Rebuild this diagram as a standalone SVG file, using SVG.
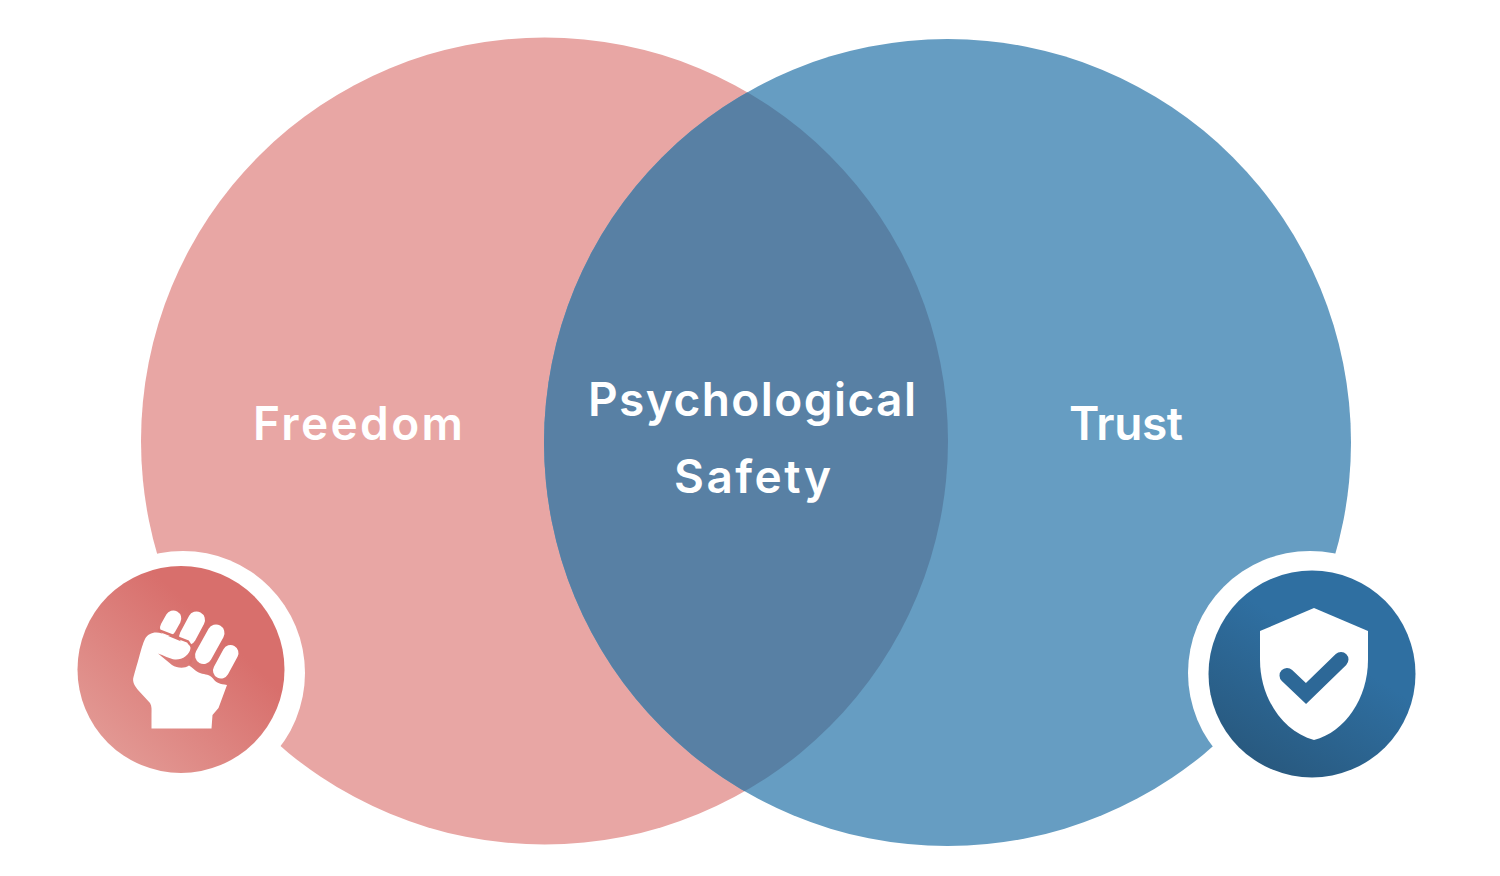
<svg xmlns="http://www.w3.org/2000/svg" width="1500" height="876" viewBox="0 0 1500 876">
<style>
.lbl{font-family:"Inter","Liberation Sans",sans-serif;font-size:46px;font-weight:600;fill:#fff}
.ring{fill:#fff}
.finger{stroke:#fff;stroke-linecap:round;fill:none}
</style>
<defs>
<linearGradient id="gr" x1="0.8" y1="0.15" x2="0.1" y2="0.9"><stop offset="0.2" stop-color="#d86f6c"/><stop offset="1" stop-color="#e39b96"/></linearGradient>
<linearGradient id="gb" x1="0.75" y1="0.15" x2="0.25" y2="0.95"><stop offset="0.3" stop-color="#2f6fa1"/><stop offset="1" stop-color="#28597f"/></linearGradient>
<clipPath id="lens"><circle cx="544.500" cy="441" r="403.500"/></clipPath>
</defs>
<rect width="1500" height="876" fill="#fff"/>
<g id="freedom">
<circle cx="544.500" cy="441" r="403.500" fill="#e8a6a4"/>
<text class="lbl" x="253" y="440" textLength="210" lengthAdjust="spacing">Freedom</text>
</g>
<g id="trust">
<circle cx="947.500" cy="442.500" r="403.500" fill="#669dc2"/>
<text class="lbl" x="1069" y="440" textLength="114" lengthAdjust="spacing">Trust</text>
</g>
<g id="psychological-safety">
<circle cx="947.500" cy="442.500" r="403.500" fill="#5880a4" clip-path="url(#lens)"/>
<text class="lbl" x="588" y="416" textLength="328" lengthAdjust="spacing">Psychological</text>
<text class="lbl" x="674" y="493" textLength="157" lengthAdjust="spacing">Safety</text>
</g>
<g id="freedom-icon">
<circle class="ring" cx="183" cy="673" r="122"/>
<circle cx="181" cy="669.500" r="103.500" fill="url(#gr)"/>
<path class="finger" stroke-width="16" d="M173.300 618.500L168 628"/>
<path class="finger" stroke-width="17" d="M196.500 620L187.700 636.500"/>
<path class="finger" stroke-width="17" d="M216 633L203.500 655.500"/>
<path class="finger" stroke-width="16" d="M230.500 653L221 670.500"/>
<path fill="none" stroke="#d9746f" stroke-width="2.500" d="M158 630L188 641.500L194 651L190 664"/>
<path fill="#fff" d="M151.500 728.500H211.500L212.500 715L218.500 708L227 685C220 684 216 683 213 678.500C209 674 206 675 200 673C195 671 192 667 189 665.500C184 669 177 668 172 665L158 653.500C163 655 170 659 175 659.500C182 660 190 655 190.500 648C190.500 645 187 644 185 643L162 633.500C155 631 148 633 145 639C142 645 140 655 133.500 677C132 682 135 686 138 690L150 703C152 706 151.500 710 151.500 714Z"/>
</g>
<g id="trust-icon">
<circle class="ring" cx="1310" cy="673" r="122"/>
<circle cx="1312" cy="674" r="103.500" fill="url(#gb)"/>
<path fill="#fff" d="M1314 608L1260 631V660C1260 698 1283 732 1314 740C1345 732 1368 698 1368 660V631Z"/>
<path fill="none" stroke="#2d6897" stroke-width="15" stroke-linecap="round" d="M1287 675.500L1306 693.500L1341 659.500"/>
</g>
</svg>
